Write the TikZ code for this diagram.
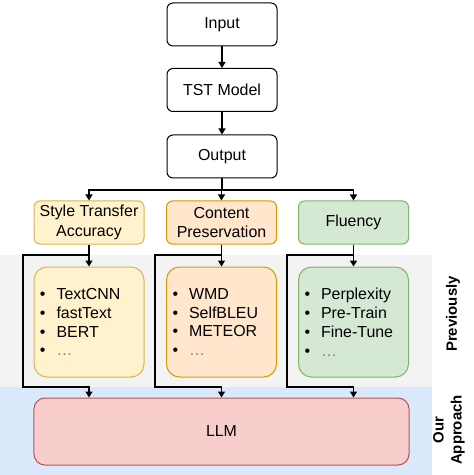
\documentclass[tikz,border=0pt]{standalone}
\usepackage{fontspec}
\setmainfont{Liberation Sans}
\usetikzlibrary{arrows.meta}

\definecolor{bandGray}{HTML}{F3F3F3}
\definecolor{bandBlue}{HTML}{DAE8FC}
\definecolor{yelFill}{HTML}{FFF2CC}
\definecolor{yelLine}{HTML}{D6B656}
\definecolor{orgFill}{HTML}{FFE6CC}
\definecolor{orgLine}{HTML}{D79B00}
\definecolor{grnFill}{HTML}{D5E8D4}
\definecolor{grnLine}{HTML}{82B366}
\definecolor{redFill}{HTML}{F8CECC}
\definecolor{redLine}{HTML}{B85450}

\newcommand{\itm}[1]{\textbullet\hspace{11pt}#1\\}

\begin{document}
\begin{tikzpicture}[x=1bp, y=-1bp,
		font=\fontsize{16}{20}\selectfont,
		box/.style={draw, line width=1bp, rounded corners=6bp, minimum width=110bp, minimum height=43bp, align=center, inner sep=1bp},
		listbox/.style={draw, line width=1bp, rounded corners=13bp, minimum width=110bp, minimum height=110bp, text width=98bp, align=left, inner xsep=6bp, font=\fontsize{16}{19}\selectfont},
		arr/.style={-{Triangle[width=7bp,length=6bp]}, line width=1.2bp},
		side/.style={font=\fontsize{15}{18}\selectfont\bfseries, rotate=90, align=center}
	]
			\useasboundingbox (0,0) rectangle (474,475);

			\def\colA{89};
			\def\colB{221.5};
			\def\colC{353.5};

			% background bands
			\begin{scope}
				\fill [bandGray] (0,255) rectangle (432,387);
				\fill [bandBlue] (0,387) rectangle (432,475);
				\node [side] (prev) at (453,314) {Previously};
				\node [side] (ours) at (449,430) {Our\\Approach};
			\end{scope}

			% pipeline
			\node [box] (in) at (222,24.5) {Input};
			\node [box] (tst) at (222,90) {TST Model};
			\node [box] (out) at (222,156.5) {Output};

			\draw [arr] (in) -- (tst);
			\draw [arr] (tst) -- (out);

			% criteria
			\node [box, fill=yelFill, draw=yelLine] (sta) at (\colA,222.5) {Style Transfer\\Accuracy};
			\node [box, fill=orgFill, draw=orgLine] (cp) at (\colB,222.5) {Content\\Preservation};
			\node [box, fill=grnFill, draw=grnLine] (flu) at (\colC,222.5) {Fluency};

			\coordinate (split) at (222,190);
			\draw [line width=1.2bp] (out) -- (split);
			\foreach \c in {sta, cp, flu}
				\draw [arr] (split) -| (\c.north);

			% previous metrics
			\node [listbox, fill=yelFill, draw=yelLine] (sta-list) at (\colA,322) {\itm{TextCNN}\itm{fastText}\itm{BERT}\textbullet\hspace{11pt}{\color{gray}\ldots}};
			\node [listbox, fill=orgFill, draw=orgLine] (cp-list) at (\colB,322) {\itm{WMD}\itm{SelfBLEU}\itm{METEOR}\textbullet\hspace{11pt}{\color{gray}\ldots}};
			\node [listbox, fill=grnFill, draw=grnLine] (flu-list) at (\colC,322) {\itm{Perplexity}\itm{Pre-Train}\itm{Fine-Tune}\textbullet\hspace{11pt}{\color{gray}\ldots}};

			% our approach
			\node [draw=redLine, fill=redFill, line width=1bp, rounded corners=11bp, minimum width=375bp, minimum height=67bp] (llm) at (221.5,431.5) {LLM};

			\foreach \c/\x in {sta/23, cp/155, flu/287} {
				\coordinate (\c-branch) at (\c |- 0,255);
				\coordinate (\c-turn) at (\x,387);
				\draw [arr] (\c) -- (\c-list);
				\draw [arr] (\c-branch) -| (\c-turn) -| (\c |- llm.north);
			}
		\end{tikzpicture}
\end{document}
